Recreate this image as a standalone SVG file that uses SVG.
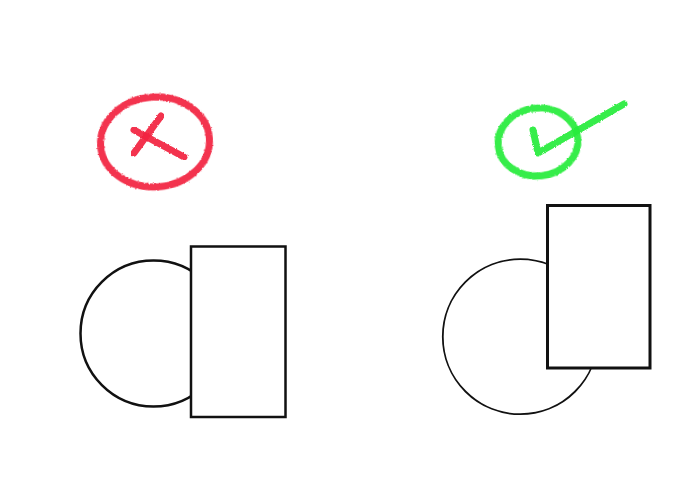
<svg xmlns="http://www.w3.org/2000/svg" width="700" height="487" viewBox="0 0 700 487">
<defs>
<style>
.crayon{fill:none;stroke-width:7;stroke-linecap:round;stroke-linejoin:round;filter:url(#rough);opacity:0.92}
.red{stroke:#f2243f}
.green{stroke:#27ec3a}
.shape{fill:#ffffff;stroke:#111111}
</style>
<filter id="rough" x="-10%" y="-10%" width="120%" height="120%">
<feTurbulence type="fractalNoise" baseFrequency="0.9" numOctaves="2" seed="3" result="n"/>
<feDisplacementMap in="SourceGraphic" in2="n" scale="2.5" xChannelSelector="R" yChannelSelector="G"/>
</filter>
</defs>
<rect width="700" height="487" fill="#ffffff"/>
<g id="wrong-mark">
<ellipse class="crayon red" cx="155" cy="142" rx="54.5" ry="45" transform="rotate(-4 155 142)"/>
<path class="crayon red" d="M134 130 L184 157"/>
<path class="crayon red" d="M161 116 L134 153"/>
</g>
<g id="right-mark">
<ellipse class="crayon green" cx="538" cy="142" rx="40" ry="34" transform="rotate(-6 538 142)"/>
<path class="crayon green" d="M533 130 L538 153 L624 104"/>
</g>
<g id="wrong-example">
<circle class="shape" cx="153.5" cy="333.5" r="73" stroke-width="2.5"/>
<rect class="shape" x="191" y="246.5" width="94.5" height="170.5" stroke-width="2.5"/>
</g>
<g id="right-example">
<circle class="shape" cx="520.3" cy="336.7" r="77.5" stroke-width="1.8"/>
<rect class="shape" x="547.5" y="205.5" width="102.5" height="162.5" stroke-width="3"/>
</g>
</svg>
